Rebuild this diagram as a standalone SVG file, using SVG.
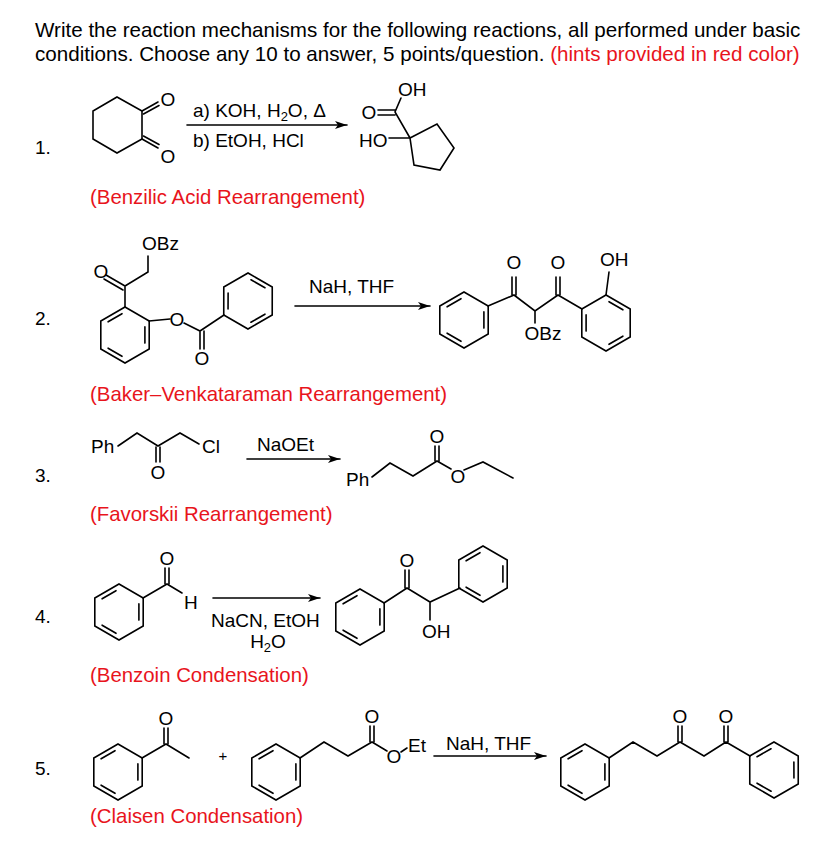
<svg xmlns="http://www.w3.org/2000/svg" xmlns:xlink="http://www.w3.org/1999/xlink" width="833" height="858" viewBox="0 0 833 858">
<style>
.b{stroke:#000;stroke-width:1.6;fill:none;stroke-linecap:round}
text{font-family:"Liberation Sans",Arial,sans-serif;fill:#000}
.h{font-size:20.6px}
.t{font-size:19px}
.r{font-size:20.4px;fill:#e8141c}
.m{text-anchor:middle}
</style>
<defs>
<marker id="ah" viewBox="0 0 12 8" refX="12" refY="4" markerWidth="12" markerHeight="8" markerUnits="userSpaceOnUse" orient="auto"><path d="M0,0 L12,4 L0,8 L3,4Z" fill="#000"/></marker>
<g id="bz" class="b">
<polygon points="0,-28 24.2,-14 24.2,14 0,28 -24.2,14 -24.2,-14"/>
<path d="M-16.9,-13.2 L-3,-21.3 M19.9,-8.1 L19.9,8.1 M-3,21.3 L-16.9,13.2"/>
</g>
</defs>
<rect width="833" height="858" fill="#fff"/>
<text class="h" x="35" y="37">Write the reaction mechanisms for the following reactions, all performed under basic</text>
<text class="h" x="35" y="61">conditions. Choose any 10 to answer, 5 points/question. <tspan fill="#e8141c">(hints provided in red color)</tspan></text>
<g class="t"><text x="35" y="154">1.</text><text x="35" y="325">2.</text><text x="35" y="482">3.</text><text x="35" y="623">4.</text><text x="35" y="775">5.</text></g>
<g id="labels">
<text class="r" x="90" y="204">(Benzilic Acid Rearrangement)</text>
<text class="r" x="90" y="401">(Baker–Venkataraman Rearrangement)</text>
<text class="r" x="90" y="521">(Favorskii Rearrangement)</text>
<text class="r" x="90" y="682">(Benzoin Condensation)</text>
<text class="r" x="90" y="823">(Claisen Condensation)</text>
</g>
<g id="rxn1">
<polygon class="b" points="117,97 142,111 142,139 117,153 93,139 93,111"/>
<path class="b" d="M142,111 L158,102 M143.5,114 L159,105.5 M142,139 L158,148 M143.5,136 L159,144.5"/>
<text class="t m" x="168" y="106">O</text><text class="t m" x="168" y="163">O</text>
<text class="t" x="193" y="117">a) KOH, H<tspan font-size="13" dy="4">2</tspan><tspan dy="-4">O, Δ</tspan></text>
<text class="t" x="193" y="147">b) EtOH, HCl</text>
<path class="b" d="M410,138 L437,124 L454,148 L440,170 L414,165 Z M410,138 L395,112 L401,98 M395,110 L378,110 M395,115 L378,115 M389,138 L410,138"/>
<text class="t m" x="369" y="119">O</text>
<text class="t" x="398" y="96">OH</text>
<text class="t" x="359" y="147">HO</text>
</g>
<g id="rxn2">
<use href="#bz" transform="translate(125,335)"/>
<path class="b" d="M125,307 L125,286 L148,272 L148,256 M125,286 L106,275 M123,290 L104,279 M149,321 L170,319 M184,323 L200,331 L224,315 M200,331 L200,349 M204,331 L204,349"/>
<text class="t m" x="101" y="278">O</text>
<text class="t" x="142" y="250">OBz</text>
<text class="t m" x="177" y="326">O</text>
<text class="t m" x="202" y="365">O</text>
<use href="#bz" transform="translate(248,301) rotate(60)"/>
<text class="t" x="309" y="293">NaH, THF</text>
<use href="#bz" transform="translate(464,320)"/>
<path class="b" d="M488,306 L514,295 L535,311 L558,295 L582,309 M512,295 L512,277 M516,295 L516,277 M556,295 L556,277 M560,295 L560,277 M535,311 L535,323 M606,295 L609,272"/>
<text class="t m" x="514" y="269">O</text>
<text class="t m" x="558" y="269">O</text>
<text class="t" x="600" y="266">OH</text>
<text class="t m" x="543" y="340">OBz</text>
<use href="#bz" transform="translate(606,323) rotate(180)"/>
</g>
<g id="rxn3">
<text class="t" x="91" y="453">Ph</text>
<path class="b" d="M118,446 L137,433 L158,446 L180,433 L199,444 M156,447 L156,462 M160,447 L160,462"/>
<text class="t" x="202" y="453">Cl</text>
<text class="t m" x="158" y="479">O</text>
<text class="t" x="257" y="451">NaOEt</text>
<text class="t" x="346" y="486">Ph</text>
<path class="b" d="M372,477 L390,463 L413,476 L437,461 L451,469 M435,461 L435,446 M439,461 L439,446 M464,470 L483,462 L513,478"/>
<text class="t m" x="437" y="443">O</text>
<text class="t m" x="458" y="483">O</text>
</g>
<g id="rxn4">
<use href="#bz" transform="translate(119,612)"/>
<path class="b" d="M143,598 L167,584 L182,593 M165,584 L165,568 M169,584 L169,568"/>
<text class="t m" x="167" y="565">O</text>
<text class="t" x="184" y="609">H</text>
<text class="t" x="211" y="627">NaCN, EtOH</text>
<text class="t m" x="268" y="648">H<tspan font-size="13" dy="4">2</tspan><tspan dy="-4">O</tspan></text>
<use href="#bz" transform="translate(360,617)"/>
<path class="b" d="M384,603 L407,588 L430,602 L460,588 M405,588 L405,570 M409,588 L409,570 M430,602 L430,620"/>
<text class="t m" x="407" y="567">O</text>
<text class="t" x="422" y="638">OH</text>
<use href="#bz" transform="translate(483,574)"/>
</g>
<g id="rxn5">
<use href="#bz" transform="translate(118,772)"/>
<path class="b" d="M142,758 L166,744 L189,758 M164,744 L164,728 M168,744 L168,728"/>
<text class="t m" x="166" y="725">O</text>
<text class="t m" x="223" y="761" style="font-size:15px">+</text>
<use href="#bz" transform="translate(276,772)"/>
<path class="b" d="M300,758 L324,742 L348,756 L372,742 L387,751 M370,742 L370,726 M374,742 L374,726 M401,752 L407,748"/>
<text class="t m" x="372" y="723">O</text>
<text class="t m" x="394" y="763">O</text>
<text class="t" x="408" y="752">Et</text>
<text class="t" x="446" y="750">NaH, THF</text>
<use href="#bz" transform="translate(585,772)"/>
<path class="b" d="M609,758 L633,742 L657,756 L680,742 L704,756 L726,742 L750,756 M678,742 L678,726 M682,742 L682,726 M724,742 L724,726 M728,742 L728,726"/>
<text class="t m" x="680" y="723">O</text>
<text class="t m" x="726" y="723">O</text>
<use href="#bz" transform="translate(774,770) rotate(120)"/>
<text class="t m" x="472" y="871">O</text>
</g>
<g id="connectors">
<path class="b" d="M187,125 L347,125" marker-end="url(#ah)"/>
<path class="b" d="M295,306 L430,306" marker-end="url(#ah)"/>
<path class="b" d="M247,459 L340,459" marker-end="url(#ah)"/>
<path class="b" d="M213,598 L320,598" marker-end="url(#ah)"/>
<path class="b" d="M434,756 L546,756" marker-end="url(#ah)"/>
</g>
</svg>
